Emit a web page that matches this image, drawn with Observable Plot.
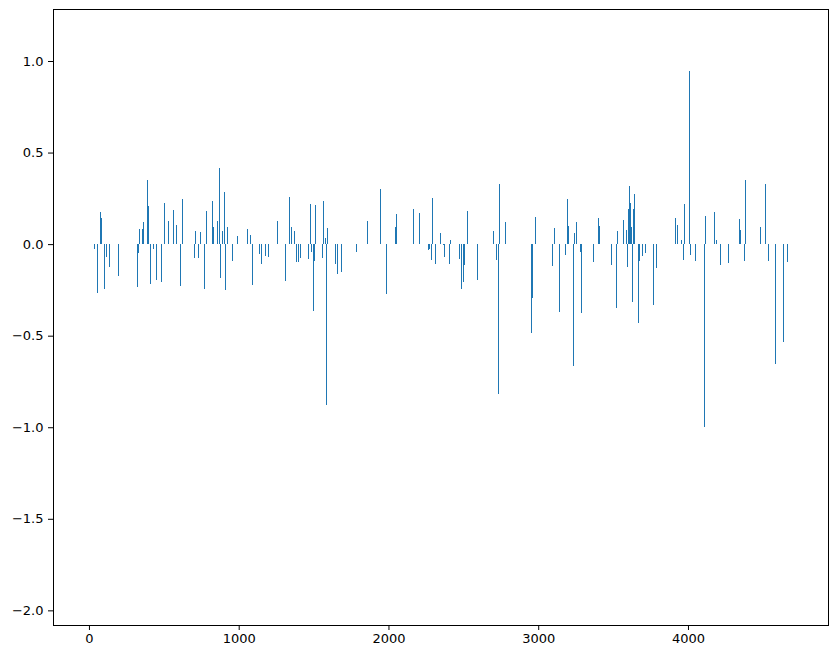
<!DOCTYPE html>
<html>
<head>
<meta charset="utf-8">
<script src="https://cdn.jsdelivr.net/npm/d3@7"></script>
<script src="https://cdn.jsdelivr.net/npm/@observablehq/plot@0.6"></script>
<style>
  html, body { margin: 0; padding: 0; background: #fff; }
  #chart svg { display: block; }
</style>
</head>
<body>
<div id="chart"></div>
<script>
// bar positions (index) and values
const positions = [
  33, 53, 73, 80, 100, 114, 134, 194, 321, 327, 334, 354, 361, 387, 394, 407, 427, 447, 481, 501,
  528, 561, 581, 608, 621, 701, 708, 728, 741, 768, 781, 821, 828, 855, 868, 875, 888, 902, 908, 922,
  955, 988, 1055, 1075, 1089, 1135, 1149, 1175, 1195, 1255, 1309, 1336, 1349, 1369, 1382, 1396, 1409,
  1462, 1476, 1483, 1496, 1503, 1509, 1556, 1563, 1576, 1583, 1589, 1643, 1656, 1683, 1783, 1856, 1943,
  1983, 2043, 2050, 2164, 2204, 2264, 2271, 2284, 2290, 2310, 2344, 2364, 2371, 2404, 2411, 2471, 2484,
  2498, 2504, 2524, 2591, 2698, 2718, 2731, 2738, 2778, 2952, 2958, 2978, 3092, 3105, 3139, 3179, 3192,
  3199, 3232, 3239, 3252, 3279, 3286, 3366, 3399, 3406, 3486, 3519, 3526, 3566, 3586, 3593, 3600, 3606,
  3613, 3620, 3626, 3633, 3640, 3666, 3673, 3693, 3713, 3766, 3786, 3913, 3927, 3953, 3967, 3974, 4007,
  4013, 4047, 4107, 4114, 4174, 4187, 4214, 4267, 4341, 4347, 4374, 4381, 4481, 4514, 4534, 4581, 4635, 4661
];
const values = [
  -0.025, -0.269, 0.174, 0.142, -0.243, -0.069, -0.124, -0.173, -0.233, -0.047, 0.085, 0.082, 0.12, 0.349, 0.207, -0.216, -0.029, -0.194, -0.205, 0.223,
  0.125, 0.185, 0.104, -0.227, 0.245, -0.074, 0.071, -0.074, 0.065, -0.243, 0.18, 0.234, 0.093, 0.125, 0.413, -0.183, 0.071, 0.283, -0.249, 0.093,
  -0.091, 0.044, 0.082, 0.049, -0.222, -0.053, -0.107, -0.064, -0.069, 0.125, -0.2, 0.256, 0.093, 0.071, -0.096, -0.096, -0.074,
  -0.08, 0.218, -0.042, -0.363, -0.091, 0.213, -0.074, 0.234, 0.033, -0.881, 0.087, -0.107, -0.162, -0.151, -0.042, 0.125, 0.3,
  -0.271, 0.093, 0.163, 0.191, 0.169, -0.031, -0.025, -0.085, 0.251, -0.107, 0.06, -0.004, -0.069, -0.107, 0.022, -0.08, -0.243,
  -0.205, -0.113, 0.18, -0.194, 0.071, -0.085, -0.821, 0.327, 0.12, -0.483, -0.292, 0.147, -0.118, 0.087, -0.369, -0.058, 0.245,
  0.098, -0.663, 0.06, 0.12, -0.042, -0.374, -0.096, 0.142, 0.098, -0.113, -0.347, 0.071, 0.131, 0.076, -0.124, 0.191, 0.316,
  0.223, 0.093, -0.314, 0.191, 0.272, -0.429, -0.091, -0.064, -0.047, -0.33, -0.129, 0.142, 0.104, 0.022, -0.085, 0.218, 0.945,
  -0.058, -0.091, -1.0, 0.153, 0.174, 0.022, -0.113, -0.102, 0.136, 0.076, -0.091, 0.349, 0.093, 0.327, -0.091, -0.652, -0.532, -0.096
];
const xTicks = [0, 1000, 2000, 3000, 4000];
const yTicks = [-2.0, -1.5, -1.0, -0.5, 0.0, 0.5, 1.0];

const data = positions.map((p, i) => ({x: p, y: values[i]}));

const chart = Plot.plot({
  width: 838,
  height: 659,
  marginLeft: 53,
  marginRight: 10,
  marginTop: 9,
  marginBottom: 34,
  style: {fontFamily: "DejaVu Sans", fontSize: "13px", color: "black", background: "white"},
  x: {domain: [-240, 4935]},
  y: {domain: [-2.08, 1.284]},
  marks: [
    Plot.ruleX(data, {x: "x", y1: 0, y2: "y", stroke: "#1f77b4", strokeWidth: 1, shapeRendering: "crispEdges"}),
    Plot.axisX({ticks: xTicks, tickFormat: d3.format("d"), tickSize: 5, tickPadding: 3, label: null, fontSize: 13}),
    Plot.axisY({ticks: yTicks, tickFormat: d3.format(".1f"), tickSize: 5, tickPadding: 5, label: null, fontSize: 13}),
    Plot.frame({stroke: "black", strokeWidth: 1})
  ]
});
document.getElementById("chart").appendChild(chart);
</script>
</body>
</html>
